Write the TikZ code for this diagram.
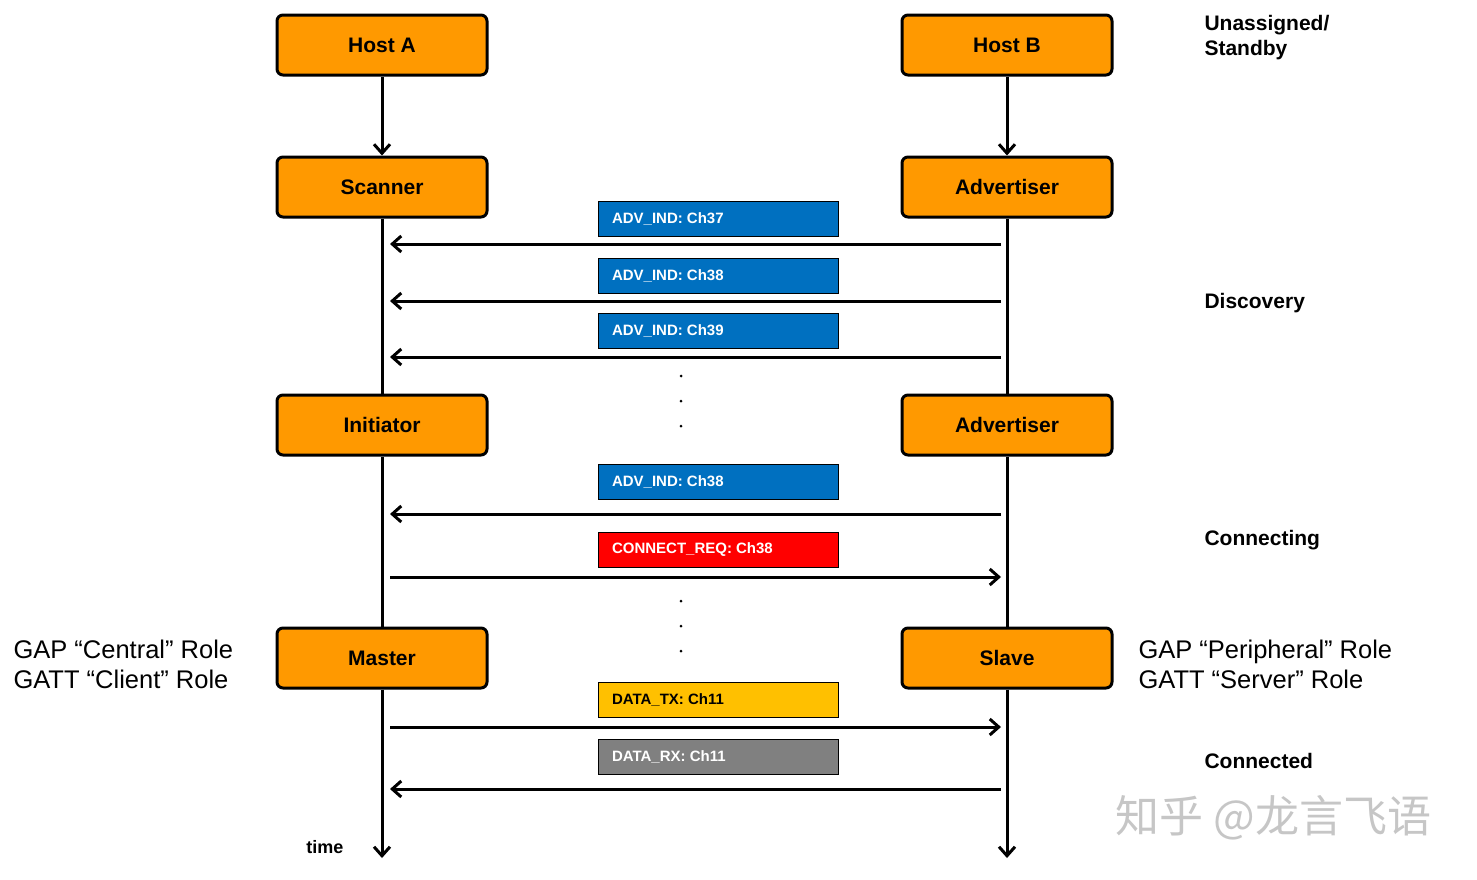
\documentclass[tikz,border=0pt]{standalone}
\usepackage{fontspec}
\setmainfont{Liberation Sans}
\newfontfamily\cjk{Noto Sans CJK SC}
\usetikzlibrary{arrows.meta}
\definecolor{org}{RGB}{255,153,0}
\definecolor{bl}{RGB}{0,112,192}
\definecolor{yl}{RGB}{255,192,0}
\begin{document}
\begin{tikzpicture}[x=1pt,y=-1pt,
  role/.style={draw=black,line width=3pt,fill=org,rounded corners=6pt,minimum width=210pt,minimum height=60pt,font=\fontsize{21}{24}\selectfont\bfseries},
  msg/.style={draw=black,line width=0.8pt,minimum width=240pt,minimum height=35pt,inner sep=0pt,font=\fontsize{15}{18}\selectfont\bfseries,text=white},
  life/.style={line width=3pt},
  arr/.style={line width=3pt,-{Straight Barb[length=9pt,width=16pt]}},
  side/.style={font=\fontsize{21}{25}\selectfont\bfseries,anchor=west,align=left},
  gap/.style={font=\fontsize{25.5}{30}\selectfont,align=left}]
\useasboundingbox (0,0) rectangle (1477,879);
\node[role] (ha) at (382,45) {Host A};
\node[role] (hb) at (1007,45) {Host B};
\node[role] (sc) at (382,187) {Scanner};
\node[role] (ad1) at (1007,187) {Advertiser};
\node[role] (in) at (382,425) {Initiator};
\node[role] (ad2) at (1007,425) {Advertiser};
\node[role] (ma) at (382,658) {Master};
\node[role] (sl) at (1007,658) {Slave};
\coordinate (ta) at (382,858);
\coordinate (tb) at (1007,858);
\draw[arr] (ha) -- (sc);
\draw[arr] (hb) -- (ad1);
\draw[life] (sc) -- (in);
\draw[life] (in) -- (ma);
\draw[life] (ad1) -- (ad2);
\draw[life] (ad2) -- (sl);
\draw[arr] (ma) -- (ta);
\draw[arr] (sl) -- (tb);
% messages
\foreach \y/\t/\c/\tc/\n in {219/ADV\_IND: Ch37/bl/white/m1,276/ADV\_IND: Ch38/bl/white/m2,331/ADV\_IND: Ch39/bl/white/m3,482/ADV\_IND: Ch38/bl/white/m4,550/CONNECT\_REQ: Ch38/red/white/m5,700/DATA\_TX: Ch11/yl/black/m6,757/DATA\_RX: Ch11/gray/white/m7}
  \node[msg,fill=\c,text=\tc] (\n) at (718,\y) {\makebox[212pt][l]{\t}};
\foreach \y/\n in {244/a1,301/a2,357/a3,514/a4,789/a7}{
  \coordinate (\n r) at (1001,\y); \coordinate (\n l) at (390,\y);
  \draw[arr] (\n r) -- (\n l);}
\foreach \y/\n in {577/a5,727/a6}{
  \coordinate (\n r) at (1001,\y); \coordinate (\n l) at (390,\y);
  \draw[arr] (\n l) -- (\n r);}
\foreach \y in {376,401,426,601,626,651} \fill (681,\y) circle (1.5pt);
\node[side] (s1) at (1201,38) {Unassigned/\\Standby};
\node[side] (s2) at (1201,303) {Discovery};
\node[side] (s3) at (1201,540) {Connecting};
\node[side] (s4) at (1201,761) {Connected};
\node[gap,anchor=west] (gl) at (10,664) {GAP “Central” Role\\GATT “Client” Role};
\node[gap,anchor=west] (gr) at (1135,664) {GAP “Peripheral” Role\\GATT “Server” Role};
\node[font=\fontsize{18}{20}\selectfont\bfseries] (tm) at (325,847) {time};
\node[font=\cjk\fontsize{44}{48}\selectfont,text=gray!45,anchor=west] (wm) at (1112,818) {知乎 @龙言飞语};
\end{tikzpicture}
\end{document}
